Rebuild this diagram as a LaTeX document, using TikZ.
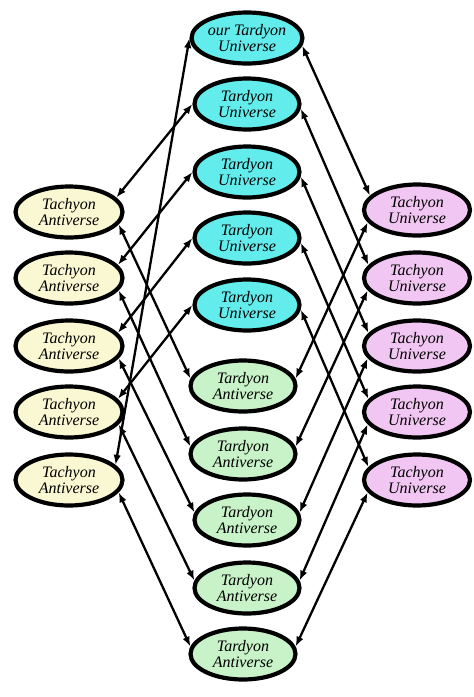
\documentclass[tikz,border=0pt]{standalone}
\usepackage{fontspec}
\setmainfont{Liberation Serif}
\usetikzlibrary{shapes.geometric,arrows.meta}
\definecolor{uniCol}{HTML}{62ECEC}
\definecolor{antiCol}{HTML}{C8F2C8}
\definecolor{tachA}{HTML}{FAF8D2}
\definecolor{tachU}{HTML}{F2C6F2}
\begin{document}
\begin{tikzpicture}[x=1pt,y=-1pt,
  blob/.style={ellipse, draw=black, line width=4.2pt, minimum width=105pt, minimum height=51pt, inner sep=0pt, align=center, font=\fontsize{16}{16.5}\selectfont\itshape},
  tardU/.style={blob, fill=uniCol},
  tardA/.style={blob, fill=antiCol},
  tachAnti/.style={blob, fill=tachA, minimum width=107pt},
  tachUni/.style={blob, fill=tachU, minimum width=106pt},
  link/.style={{Latex[length=10pt,width=7.5pt]}-{Latex[length=10pt,width=7.5pt]}, line width=2.3pt}
]
\useasboundingbox (0,0) rectangle (474,697);
% centre column
\node[tardU] (C1) at (247,38) {our Tardyon\\Universe};
\node[tardU] (C2) at (247,104) {Tardyon\\Universe};
\node[tardU] (C3) at (247,172) {Tardyon\\Universe};
\node[tardU] (C4) at (247,238) {Tardyon\\Universe};
\node[tardU] (C5) at (247,305) {Tardyon\\Universe};
\node[tardA] (C6) at (243,386) {Tardyon\\Antiverse};
\node[tardA] (C7) at (243,454) {Tardyon\\Antiverse};
\node[tardA] (C8) at (247,520) {Tardyon\\Antiverse};
\node[tardA] (C9) at (247,588) {Tardyon\\Antiverse};
\node[tardA] (C10) at (243,654) {Tardyon\\Antiverse};
% left column
\node[tachAnti] (L1) at (69,212) {Tachyon\\Antiverse};
\node[tachAnti] (L2) at (69,278) {Tachyon\\Antiverse};
\node[tachAnti] (L3) at (69,346) {Tachyon\\Antiverse};
\node[tachAnti] (L4) at (69,412) {Tachyon\\Antiverse};
\node[tachAnti] (L5) at (69,480) {Tachyon\\Antiverse};
% right column
\node[tachUni] (R1) at (417,210) {Tachyon\\Universe};
\node[tachUni] (R2) at (417,278) {Tachyon\\Universe};
\node[tachUni] (R3) at (417,346) {Tachyon\\Universe};
\node[tachUni] (R4) at (417,412) {Tachyon\\Universe};
\node[tachUni] (R5) at (417,480) {Tachyon\\Universe};
% left links
\draw[link] (C1.180) -- (L5.18);
\draw[link] (C2.180) -- (L1.17);
\draw[link] (C3.180) -- (L2.15);
\draw[link] (C4.180) -- (L3.15);
\draw[link] (C5.180) -- (L4.15);
\draw[link] (L1.-14) -- (C6.172);
\draw[link] (L2.-14) -- (C7.172);
\draw[link] (L3.-14) -- (C8.172);
\draw[link] (L4.-14) -- (C9.172);
\draw[link] (L5.-14) -- (C10.172);
% right links
\draw[link] (C1.-8) -- (R1.163);
\draw[link] (C2.-5) -- (R2.165);
\draw[link] (C3.-5) -- (R3.165);
\draw[link] (C4.-5) -- (R4.165);
\draw[link] (C5.-5) -- (R5.165);
\draw[link] (R1.194) -- (C6.8);
\draw[link] (R2.194) -- (C7.8);
\draw[link] (R3.194) -- (C8.8);
\draw[link] (R4.194) -- (C9.8);
\draw[link] (R5.194) -- (C10.8);
\end{tikzpicture}
\end{document}
